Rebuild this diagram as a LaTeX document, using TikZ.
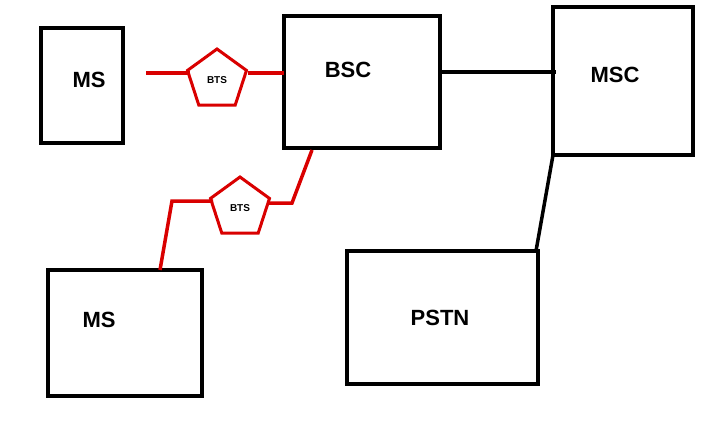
\documentclass[tikz,border=0pt]{standalone}
\usepackage{fontspec}
\setmainfont{Liberation Sans}
\usetikzlibrary{shapes.geometric}
\begin{document}
\begin{tikzpicture}[x=1pt,y=-1pt,
  blk/.style={draw=black,line width=3.5pt},
  lbl/.style={font=\bfseries\fontsize{22}{22}\selectfont},
  bts/.style={regular polygon,regular polygon sides=5,draw=red!85!black,line width=3pt,minimum size=62pt,inner sep=0pt,font=\bfseries\fontsize{10}{10}\selectfont},
  rl/.style={draw=red!85!black,line width=3.5pt},
  bl/.style={draw=black,line width=3.5pt}]
\useasboundingbox (0,0) rectangle (723,429);
\draw[blk] (41,28) rectangle (123,143);
\node[lbl] (ms1) at (89,80) {MS};
\draw[blk] (284,16) rectangle (440,148);
\node[lbl] (bsc) at (348,70) {BSC};
\draw[blk] (553,7) rectangle (693,155);
\node[lbl] (msc) at (615,75) {MSC};
\draw[blk] (347,251) rectangle (538,384);
\node[lbl] (pstn) at (440,318) {PSTN};
\draw[blk] (48,270) rectangle (202,396);
\node[lbl] (ms2) at (99,320) {MS};
\node[bts] (b1) at (217,80) {BTS};
\node[bts] (b2) at (240,208) {BTS};
\coordinate (a1) at (146,73); \coordinate (a2) at (190,73);
\coordinate (a3) at (248,73); \coordinate (a4) at (284,73);
\draw[rl] (a1) -- (a2); \draw[rl] (a3) -- (a4);
\coordinate (c1) at (160,270); \coordinate (c2) at (172,201); \coordinate (c3) at (213,201);
\coordinate (d1) at (267,203); \coordinate (d2) at (292,203); \coordinate (d3) at (312,150);
\draw[rl] (c1) -- (c2) -- (c3);
\draw[rl] (d1) -- (d2) -- (d3);
\coordinate (e1) at (440,72); \coordinate (e2) at (556,72);
\draw[bl] (e1) -- (e2);
\coordinate (f1) at (553,155); \coordinate (f2) at (536,251);
\draw[bl] (f1) -- (f2);
\end{tikzpicture}
\end{document}
